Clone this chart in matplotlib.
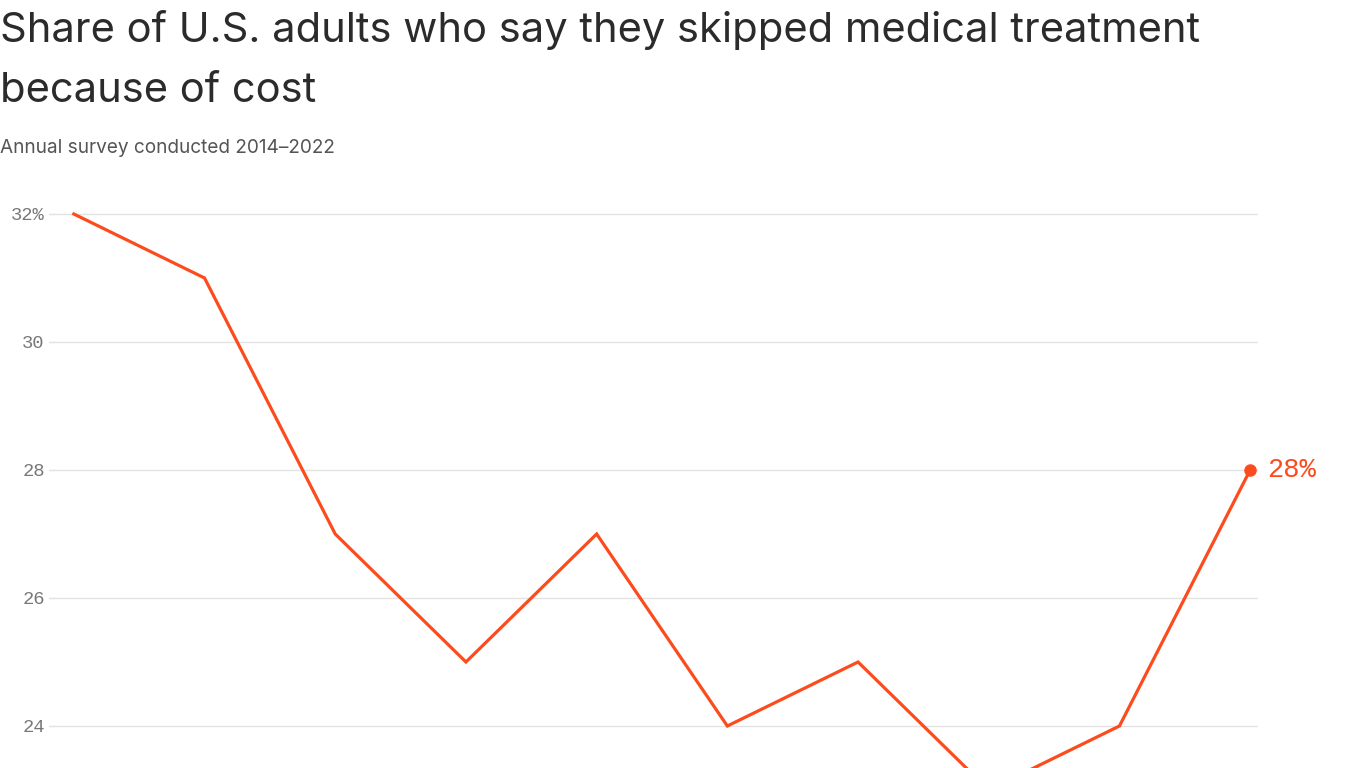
import matplotlib.pyplot as plt

# data (10 survey points, 2014-2022)
points = list(range(10))
share = [32, 31, 27, 25, 27, 24, 25, 23, 24, 28]
yticks = [24, 26, 28, 30, 32]
ytick_labels = ['24', '26', '28', '30', '32%']

orange = '#fc4c1e'

fig = plt.figure(figsize=(13.66, 7.68), dpi=100)

# axes runs past the bottom edge, as in the reference (cropped)
x0, x1 = -0.19, 9.06
y0, y1 = 22.0, 32.1
left = 49 / 1366
right = 1258 / 1366
top = 1 - (214 - 0.1 * 64) / 768
bottom = 1 - (214 + 10 * 64) / 768
ax = fig.add_axes([left, bottom, right - left, top - bottom])

ax.plot(points, share, color=orange, lw=2.3, solid_joinstyle='miter', zorder=3)
ax.plot(points[-1], share[-1], 'o', color=orange, ms=8, zorder=4)
ax.annotate(f'{share[-1]}%', (points[-1], share[-1]), xytext=(12, 0),
            textcoords='offset points', va='center', ha='left',
            color=orange, fontsize=19.5, family='Liberation Mono',
            annotation_clip=False)

ax.set_xlim(x0, x1)
ax.set_ylim(y0, y1)
ax.set_yticks(yticks)
ax.set_yticklabels(ytick_labels, family='Liberation Mono', fontsize=13.5,
                   color='#777777')
ax.set_xticks([])
ax.tick_params(axis='y', length=0, pad=3)
ax.grid(axis='y', color='#e2e2e2', lw=1)
for s in ax.spines.values():
    s.set_visible(False)

fig.text(0.0, 1 - 10 / 768, 'Share of U.S. adults who say they skipped medical treatment\nbecause of cost',
         ha='left', va='top', fontsize=30, family='Inter', color='#2b2b2b',
         linespacing=1.72)
fig.text(0.0, 1 - 148 / 768, 'Annual survey conducted 2014–2022',
         ha='left', va='center', fontsize=13.7, family='Inter', color='#555555')

fig.savefig('out.png', dpi=100)
